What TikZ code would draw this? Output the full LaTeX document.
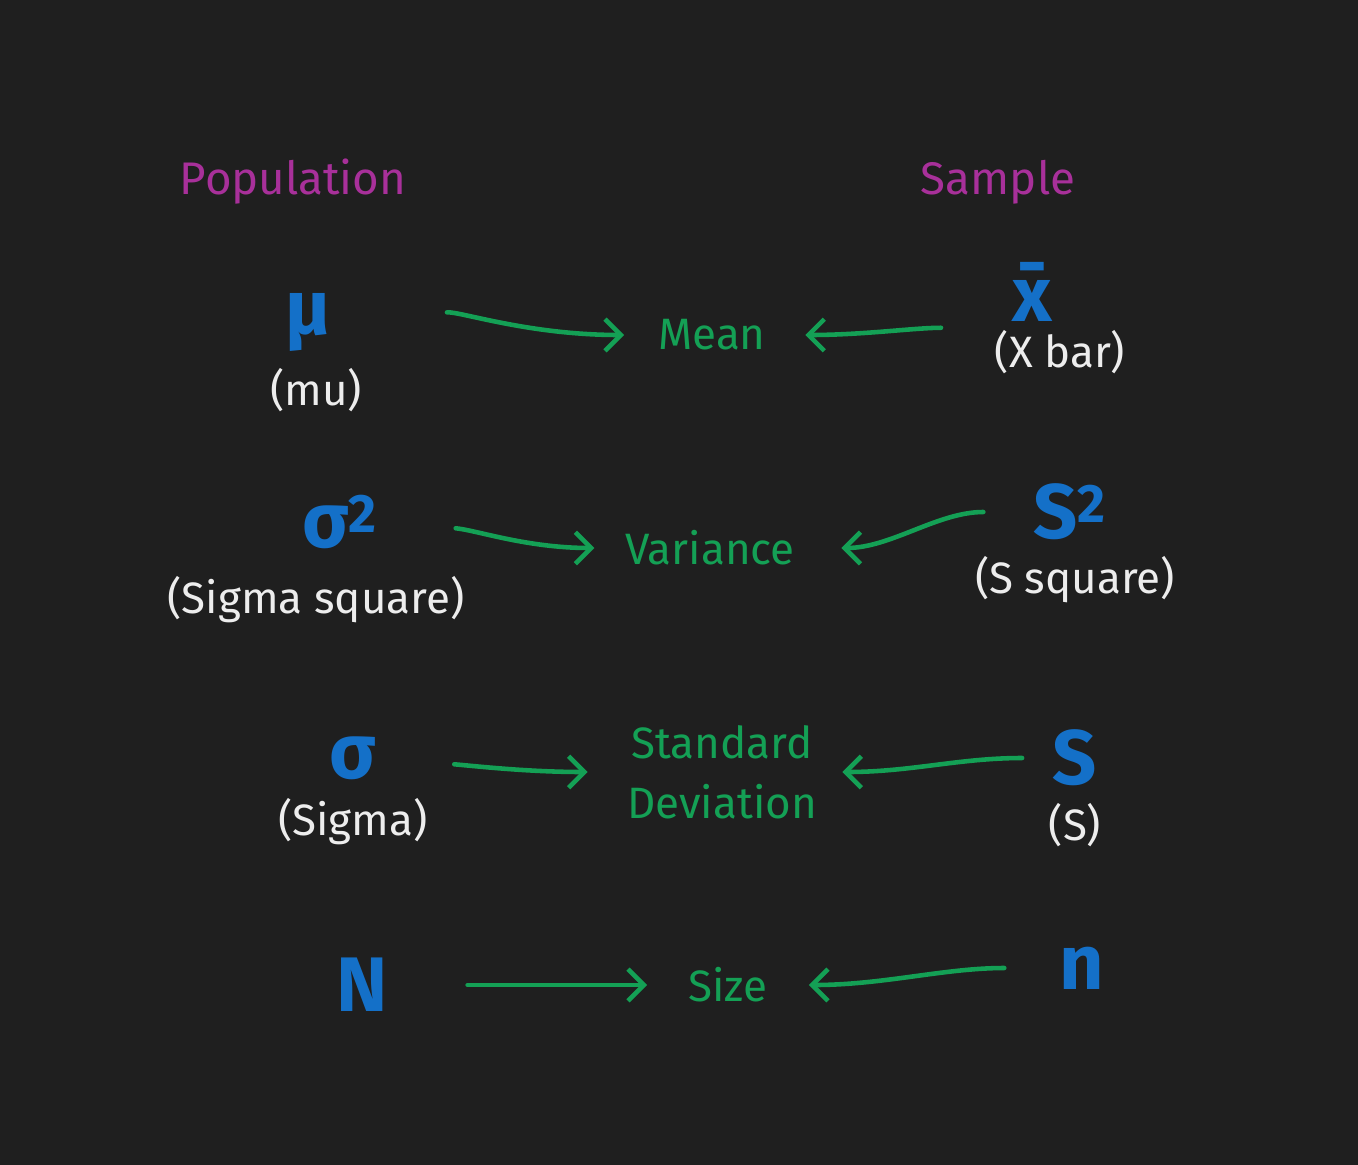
\documentclass[tikz,border=0pt]{standalone}
\usepackage{fontspec}
\setmainfont{Fira Sans}
\usetikzlibrary{positioning,arrows.meta}
\definecolor{bgc}{HTML}{1F1F1F}
\definecolor{magc}{HTML}{A8309A}
\definecolor{bluec}{HTML}{1470C8}
\definecolor{greenc}{HTML}{14A055}
\definecolor{whitec}{HTML}{EDEDED}
\tikzset{
  head/.style={text=magc, font=\fontsize{26}{30}\selectfont},
  sym/.style={text=bluec, font=\fontsize{44}{48}\selectfont\bfseries},
  symname/.style={text=whitec, font=\fontsize{25}{30}\selectfont},
  term/.style={text=greenc, font=\fontsize{25}{34}\selectfont, align=center},
  link/.style={greenc, line width=2.6pt, line cap=round, line join=round,
    -{Straight Barb[length=9pt,width=18pt,line width=2.6pt]}}
}
\begin{document}
\begin{tikzpicture}[x=0.02cm,y=-0.02cm]
  \fill[bgc] (0,0) rectangle (1358,1165);
  % Headers
  \node[head] (pop) at (293,182) {Population};
  \node[head] (smp) at (998,182) {Sample};
  % Mean
  \node[sym] (mu) at (308,322) {μ};
  \node[symname] (mut) at (316,390) {(mu)};
  \node[term] (mean) at (712,335) {Mean};
  \node[sym] (xbar) at (1032,292) {\={x}};
  \node[symname] (xbart) at (1060,352) {(X bar)};
  % Variance
  \node[sym] (sig2) at (340,522) {σ\textsuperscript{2}};
  \node[symname] (sig2t) at (316,600) {(Sigma square)};
  \node[term] (var) at (710,548) {Variance};
  \node[sym] (s2) at (1070,512) {S\textsuperscript{2}};
  \node[symname] (s2t) at (1075,580) {(S square)};
  % Standard deviation
  \node[sym] (sig) at (353,758) {σ};
  \node[symname] (sigt) at (353,822) {(Sigma)};
  \node[term] (sd) at (722,772) {Standard\\Deviation};
  \node[sym] (s) at (1075,758) {S};
  \node[symname] (st) at (1075,825) {(S)};
  % Size
  \node[sym] (bign) at (362,985) {N};
  \node[term] (size) at (728,985) {Size};
  \node[sym] (smn) at (1082,968) {n};
  % Arrows
  \draw[link, shorten <=63pt, shorten >=16pt] (mu.east) to[out=5,in=180] (mean.west);
  \draw[link, shorten <=37pt, shorten >=19pt] (xbar.south west) to[out=180,in=0] (mean.east);
  \draw[link, shorten <=41pt, shorten >=14pt] (sig2.east) to[out=-5,in=180] (var.west);
  \draw[link, shorten <=25pt, shorten >=23pt] (s2.west) to[out=180,in=0] (var.east);
  \draw[link, shorten <=41pt, shorten >=19pt] (sig.east) to[out=-5,in=180] (sd.west);
  \draw[link, shorten <=14pt, shorten >=11pt] (s.west) to[out=180,in=0] (sd.east);
  \draw[link, shorten <=42pt, shorten >=20pt] (bign.east) -- (size.west);
  \draw[link, shorten <=28pt, shorten >=20pt] (smn.west) to[out=180,in=0] (size.east);
\end{tikzpicture}
\end{document}
